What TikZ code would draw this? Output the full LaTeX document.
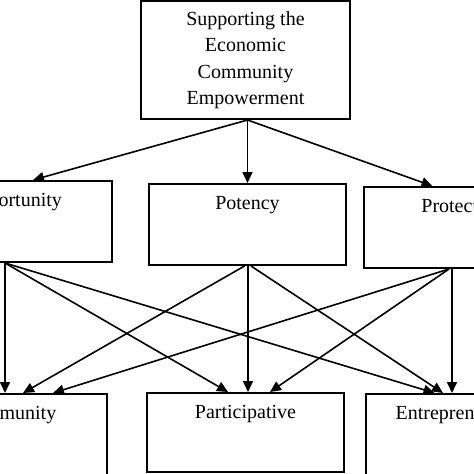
\documentclass[tikz,border=0pt]{standalone}
\usepackage{fontspec}
\setmainfont{Liberation Serif}
\usetikzlibrary{arrows.meta}
\tikzset{box/.style={draw,line width=2pt,minimum width=197pt,inner sep=0pt,font=\fontsize{20}{26.5}\selectfont},
	lowbox/.style={box,text height=25pt,text depth=56pt,anchor=base},
	>={Triangle[length=11pt,width=10pt]}}

\begin{document}
\begin{tikzpicture}[x=1pt,y=-1pt,line width=1.6pt]
	\useasboundingbox (0,0) rectangle (474,474);
	\clip (0,0) rectangle (474,474);
	\node[box,minimum height=118pt,minimum width=209pt,align=center] (S) at (245.5,60) {Supporting the\\Economic\\Community\\Empowerment};
	
	\node[lowbox] (O) at (13,206) {Opportunity};
	\node[lowbox] (P) at (247.5,209) {Potency};
	\node[lowbox] (R) at (462.5,212) {Protection};
	\node[lowbox] (C) at (8.5,419) {Community};
	\node[lowbox,text depth=54pt] (A) at (245.5,418) {Participative};
	\node[lowbox] (E) at (464.5,419) {Entrepreneurship};
	
	\draw[->] ([xshift=2pt]S.south) -- ([xshift=20pt]O.north);
	\draw[->] ([xshift=2pt]S.south) -- (P.north);
	\draw[->] ([xshift=2pt]S.south) -- ([xshift=-30pt]R.north);
	
	\draw[->] ([xshift=-8pt]O.south) -- ([xshift=-3.5pt]C.north);
	\draw[->] ([xshift=-8pt]O.south) -- ([xshift=-17.5pt]A.north);
	\draw[->] ([xshift=-8pt]O.south) -- ([xshift=-30pt]E.north);
	\draw[->] ([xshift=-3pt]P.south) -- ([xshift=14.5pt]C.north);
	\draw[->] ([xshift=0.5pt]P.south) -- ([xshift=2.5pt]A.north);
	\draw[->] ([xshift=3.5pt]P.south) -- ([xshift=-21.5pt]E.north);
	\draw[->] ([xshift=-13.5pt]R.south) -- ([xshift=44.5pt]C.north);
	\draw[->] ([xshift=-13.5pt]R.south) -- ([xshift=24.5pt]A.north);
	\draw[->] ([xshift=-10.5pt]R.south) -- ([xshift=-12.5pt]E.north);
\end{tikzpicture}
\end{document}
